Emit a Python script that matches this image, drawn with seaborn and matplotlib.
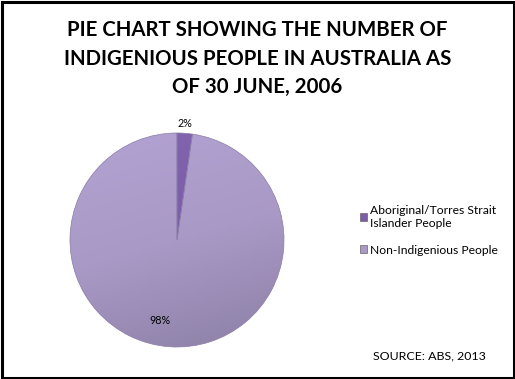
import numpy as np
import matplotlib
matplotlib.use("Agg")
import matplotlib.pyplot as plt
from matplotlib.patches import Patch, Rectangle
from matplotlib.colors import LinearSegmentedColormap, to_rgb
import seaborn as sns

categories = ["Aboriginal/Torres Strait\nIslander People", "Non-Indigenious People"]
values = [2.3, 97.7]
colors = ["#7b5ea6", "#a899c6"]
title_lines = ["PIE CHART SHOWING THE NUMBER OF",
               "INDIGENIOUS PEOPLE IN AUSTRALIA AS",
               "OF 30 JUNE, 2006"]
source = "SOURCE: ABS, 2013"

sns.set_theme(style="white")
plt.rcParams['font.family'] = ['Lato', 'DejaVu Sans']
plt.rcParams['text.color'] = 'black'

W, H = 515, 379
fig = plt.figure(figsize=(W / 100, H / 100), dpi=100)
fig.patch.set_facecolor("white")
renderer = fig.canvas.get_renderer()


def fit_size(txt, target_px, size0=10, weight="normal"):
    t = fig.text(0, 0, txt, fontsize=size0, fontweight=weight)
    w = t.get_window_extent(renderer).width
    t.remove()
    return size0 * target_px / w


# border
fig.patches.append(Rectangle((1.5 / W, 1.5 / H), 1 - 3 / W, 1 - 3 / H, transform=fig.transFigure,
                             fill=False, edgecolor="black", linewidth=2.2))

# pie
cx, cy, r = 177, 240, 107
ax = fig.add_axes([(cx - r) / W, (H - cy - r) / H, 2 * r / W, 2 * r / H])
wedges, texts, autotexts = ax.pie(values, colors=colors, startangle=90, counterclock=False,
                                  autopct="%1.0f%%", pctdistance=0.8,
                                  wedgeprops=dict(edgecolor="none", linewidth=0),
                                  textprops=dict(color="black"))
ax.set_xlim(-1, 1)
ax.set_ylim(-1, 1)
ax.set_aspect("equal")
ax.axis("off")

# shading gradient (lighter top, darker bottom) clipped to each wedge
yy, xx = np.mgrid[1:-1:200j, -1:1:200j]
shade = np.clip(0.5 + 0.35 * yy - 0.1 * xx, 0, 1)
for w, c in zip(wedges, colors):
    base = np.array(to_rgb(c))
    cmap = LinearSegmentedColormap.from_list("g", [base * 0.82, base, np.minimum(base * 1.07, 1)])
    im = ax.imshow(shade, cmap=cmap, vmin=0, vmax=1, extent=[-1, 1, -1, 1], zorder=w.get_zorder() + 0.1)
    im.set_clip_path(w)
# wedge outlines
for w in wedges:
    w.set_facecolor("none")
    w.set_edgecolor("#8a7ca8")
    w.set_linewidth(0.5)
    w.set_zorder(5)

pct_size = fit_size("98%", 21)
for t in autotexts:
    t.set_fontsize(pct_size)
    t.set_zorder(6)
autotexts[0].set_position((0.075, 1.093))
autotexts[0].set_va("center")
autotexts[1].set_position((-0.159, -0.748))
autotexts[1].set_va("center")

# title
tsize = fit_size(title_lines[0], 383, 14, "bold")
for line, yc in zip(title_lines, [28, 57, 85]):
    fig.text(0.5, (H - yc) / H, line, ha="center", va="center_baseline", fontsize=tsize,
             fontweight="bold", color="black")

# legend
lsize = fit_size("Aboriginal/Torres Strait", 126)
handles = [Patch(facecolor=c, edgecolor="#666666", linewidth=0.5) for c in colors]
leg = fig.legend(handles, categories, loc="upper left", bbox_to_anchor=(360 / W, (H - 205) / H),
                 frameon=False, fontsize=lsize, handlelength=0.55, handleheight=0.6,
                 handletextpad=0.3, labelspacing=1.3, borderaxespad=0, borderpad=0)

ssize = fit_size(source, 113)
fig.text(486 / W, (H - 356) / H, source, ha="right", va="center", fontsize=ssize)

fig.savefig("out.png", dpi=100)
